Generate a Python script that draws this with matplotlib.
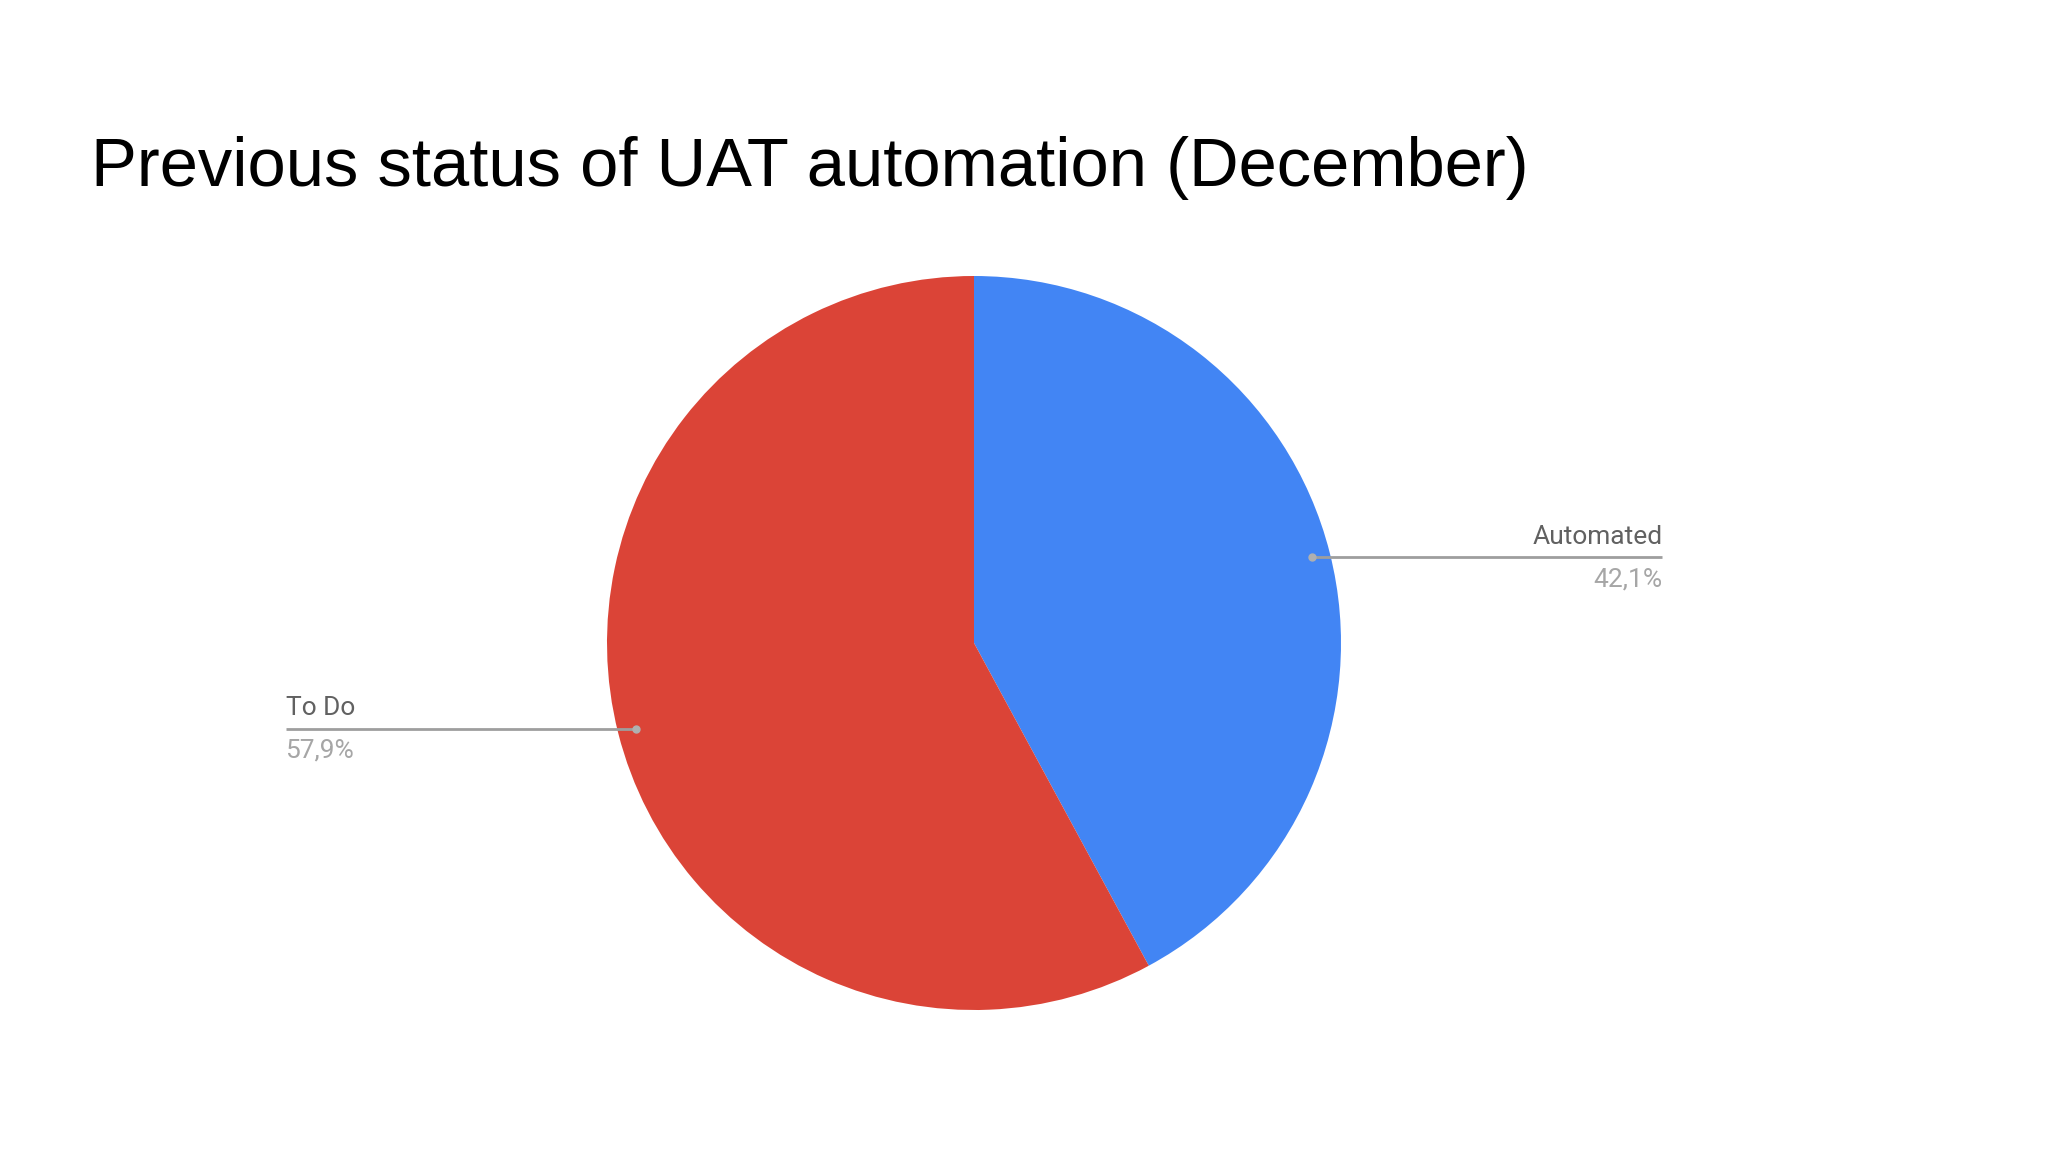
import numpy as np
import matplotlib.pyplot as plt

# Data
labels = ["Automated", "To Do"]
values = [42.1, 57.9]
colors = ["#4285F4", "#DB4437"]
title = "Previous status of UAT automation (December)"


def main():
    W, H = 2048, 1152
    fig = plt.figure(figsize=(W / 100, H / 100), dpi=100)
    fig.patch.set_facecolor("white")

    # axes cover whole figure; 1 data unit = pie radius in pixels
    R = 367.0
    cx, cy = 974.0, 1152 - 643.0
    ax = fig.add_axes([0, 0, 1, 1])
    ax.pie(values, colors=colors, startangle=90, counterclock=False,
           radius=1, center=(0, 0), wedgeprops=dict(linewidth=0))
    ax.set_xlim(-cx / R, (W - cx) / R)
    ax.set_ylim(-cy / R, (H - cy) / R)
    ax.set_aspect("equal")
    ax.axis("off")

    # leader lines and labels
    total = sum(values)
    start = 90.0
    label_x = 1.876
    for lab, v in zip(labels, values):
        span = v / total * 360
        mid = np.deg2rad(start - span / 2)
        start -= span
        px, py = 0.95 * np.cos(mid), 0.95 * np.sin(mid)
        side = 1 if px > 0 else -1
        ex = side * label_x
        ax.plot([px, ex], [py, py], color="#9e9e9e", lw=2, solid_capstyle="butt", zorder=3)
        ax.plot([px], [py], "o", color="#b0b0b0", ms=5, zorder=4)
        ha = "right" if side > 0 else "left"
        ax.annotate(lab, (ex, py), xytext=(0, 6), textcoords="offset points",
                    ha=ha, va="bottom", fontsize=19, family="Roboto", color="#616161")
        ax.annotate(("%.1f%%" % v).replace(".", ","), (ex, py), xytext=(0, -7),
                    textcoords="offset points", ha=ha, va="top", fontsize=19,
                    family="Roboto", color="#a6a6a6")

    fig.text(91 / W, 1 - 186 / H, title, fontsize=49.5, family="Liberation Sans",
             color="black", ha="left", va="baseline")

    fig.savefig("out.png", dpi=100, facecolor="white")


if __name__ == "__main__":
    main()
